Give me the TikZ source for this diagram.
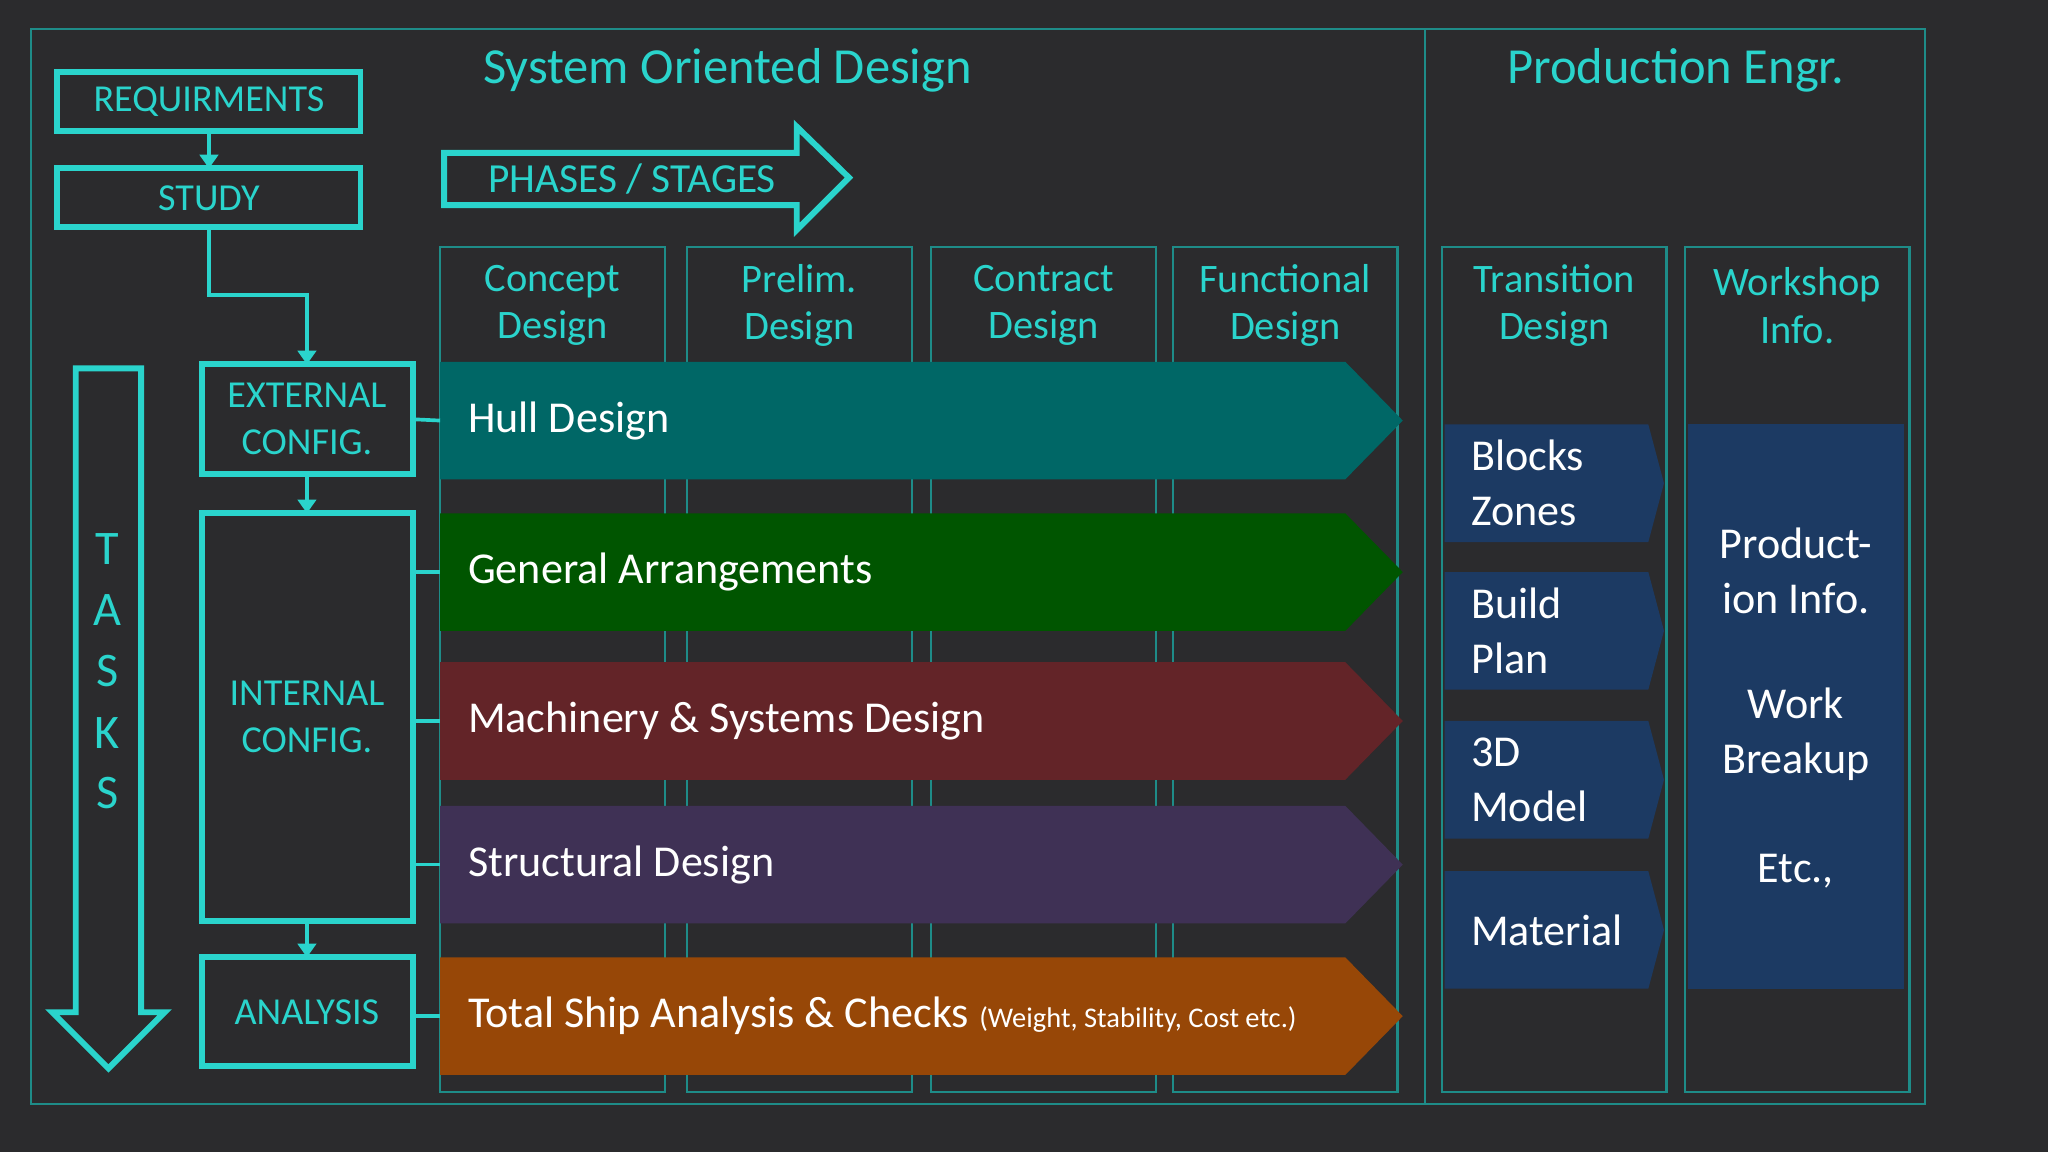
\documentclass[tikz,border=0pt]{standalone}
\usepackage{fontspec}
\setmainfont{Carlito}
\usetikzlibrary{arrows.meta}
\definecolor{bg}{HTML}{2B2B2D}
\definecolor{cy}{HTML}{2AD4CC}
\definecolor{thin}{HTML}{1E8C88}
\definecolor{hull}{HTML}{006766}
\definecolor{ga}{HTML}{005500}
\definecolor{mach}{HTML}{632428}
\definecolor{stru}{HTML}{3F3155}
\definecolor{ana}{HTML}{974707}
\definecolor{blu}{HTML}{1C3A63}
\tikzset{
 col/.style={draw=thin,line width=0.5pt},
 hd/.style={text=cy,align=center,font=\fontsize{8.8}{10.3}\selectfont},
 bt/.style={text=white,anchor=west,font=\fontsize{9.6}{12}\selectfont},
 ct/.style={text=white,anchor=west,align=left,font=\fontsize{9.6}{12}\selectfont},
 ar/.style={draw=cy,line width=0.8pt,-{Triangle[length=3pt,width=4pt]}},
 tl/.style={draw=cy,line width=0.8pt},
 ob/.style={draw=cy,line width=1.3pt}
}
\begin{document}
\begin{tikzpicture}[x=0.01cm,y=-0.01cm]
\fill[bg] (0,0) rectangle (1568,882);
\useasboundingbox (0,0) rectangle (1568,882);
\draw[col] (24,22) rectangle (1474,845);
\draw[col] (1091,22) -- (1091,845);
\node[text=cy,font=\fontsize{11}{13}\selectfont] (t1) at (557,54) {System Oriented Design};
\node[text=cy,font=\fontsize{11}{13}\selectfont] (t2) at (1283,54) {Production Engr.};
% columns
\foreach \a/\b/\n/\l in {337/509/c1/Concept\\Design,526/698/c2/Prelim.\\Design,713/885/c3/Contract\\Design,898/1070/c4/Functional\\Design,1104/1276/c5/Transition\\Design,1290/1462/c6/Workshop\\Info.}{
 \draw[col] (\a,189) rectangle (\b,836);
 \node[hd] (\n) at ({(\a+\b)/2},234) {\l};
}
% left boxes
\draw[ob] (44,55) rectangle (276,100);
\node[text=cy,font=\fontsize{8.3}{10}\selectfont] (req) at (160,78) {REQUIRMENTS};
\draw[ob] (44,129) rectangle (276,174);
\node[text=cy,font=\fontsize{8.3}{10}\selectfont] (stu) at (160,152) {STUDY};
\coordinate (reqb) at (160,100); \coordinate (stut) at (160,129);
\coordinate (stub) at (160,174);
\draw[ar] (reqb) -- (stut);
\draw[ob] (155,279) rectangle (316,363);
\node[hd,font=\fontsize{8.3}{10.3}\selectfont] (ext) at (235,321) {EXTERNAL\\CONFIG.};
\draw[ob] (155,393) rectangle (316,705);
\node[hd,font=\fontsize{8.3}{10.3}\selectfont] (int) at (235,549) {INTERNAL\\CONFIG.};
\draw[ob] (155,733) rectangle (316,816);
\node[hd,font=\fontsize{8.3}{10.3}\selectfont] (ana) at (235,775) {ANALYSIS};
\coordinate (extt) at (235,279); \coordinate (extb) at (235,363);
\coordinate (intt) at (235,393); \coordinate (intb) at (235,705);
\coordinate (anat) at (235,733);
\draw[ar] (stub) -- (160,226) -- (235,226) -- (extt);
\draw[ar] (extb) -- (intt);
\draw[ar] (intb) -- (anat);
% tasks arrow
\draw[ob] (58,282) -- (108,282) -- (108,775) -- (126,775) -- (83,818) -- (40,775) -- (58,775) -- cycle;
\foreach \c/\y in {T/420,A/467,S/514,K/561,S/607}
 \node[text=cy,font=\fontsize{10.5}{13}\selectfont] at (82,\y) {\c};
% phases arrow
\draw[ob] (340,117) -- (610,117) -- (610,97) -- (650,136) -- (610,176) -- (610,157) -- (340,157) -- cycle;
\node[text=cy,font=\fontsize{9}{11}\selectfont] (ph) at (484,137) {PHASES / STAGES};
% bands
\foreach \y/\c/\n in {322/hull/b1,438/ga/b2,552/mach/b3,662/stru/b4,778/ana/b5}{
 \fill[\c] (337,\y-45) -- (1030,\y-45) -- (1074,\y) -- (1030,\y+45) -- (337,\y+45) -- cycle;
 \coordinate (\n) at (337,\y);
}
\node[bt] at (346,322) {Hull Design};
\node[bt] at (346,438) {General Arrangements};
\node[bt] at (346,552) {Machinery \& Systems Design};
\node[bt] at (346,662) {Structural Design};
\node[bt] at (346,778) {Total Ship Analysis \& Checks {\fontsize{6.2}{8}\selectfont(Weight, Stability, Cost etc.)}};
\draw[tl] (316,321) -- (b1);
\draw[tl] (316,438) -- (b2);
\draw[tl] (316,552) -- (b3);
\draw[tl] (316,662) -- (b4);
\draw[tl] (316,778) -- (b5);
% production chevrons
\foreach \y/\l in {370/Blocks\\Zones,483/Build\\Plan,597/3D\\Model,712/Material}{
 \fill[blu] (1106,\y-45) -- (1262,\y-45) -- (1274,\y) -- (1262,\y+45) -- (1106,\y+45) -- cycle;
 \node[ct] at (1114,\y) {\l};
}
\fill[blu] (1292,325) rectangle (1458,757);
\node[text=white,align=center,font=\fontsize{9.6}{12}\selectfont] (pi) at (1375,437) {Product-\\ion Info.};
\node[text=white,align=center,font=\fontsize{9.6}{12}\selectfont] (wb) at (1375,562) {Work\\Breakup};
\node[text=white,font=\fontsize{9.6}{12}\selectfont] (et) at (1375,667) {Etc.,};
\end{tikzpicture}
\end{document}
